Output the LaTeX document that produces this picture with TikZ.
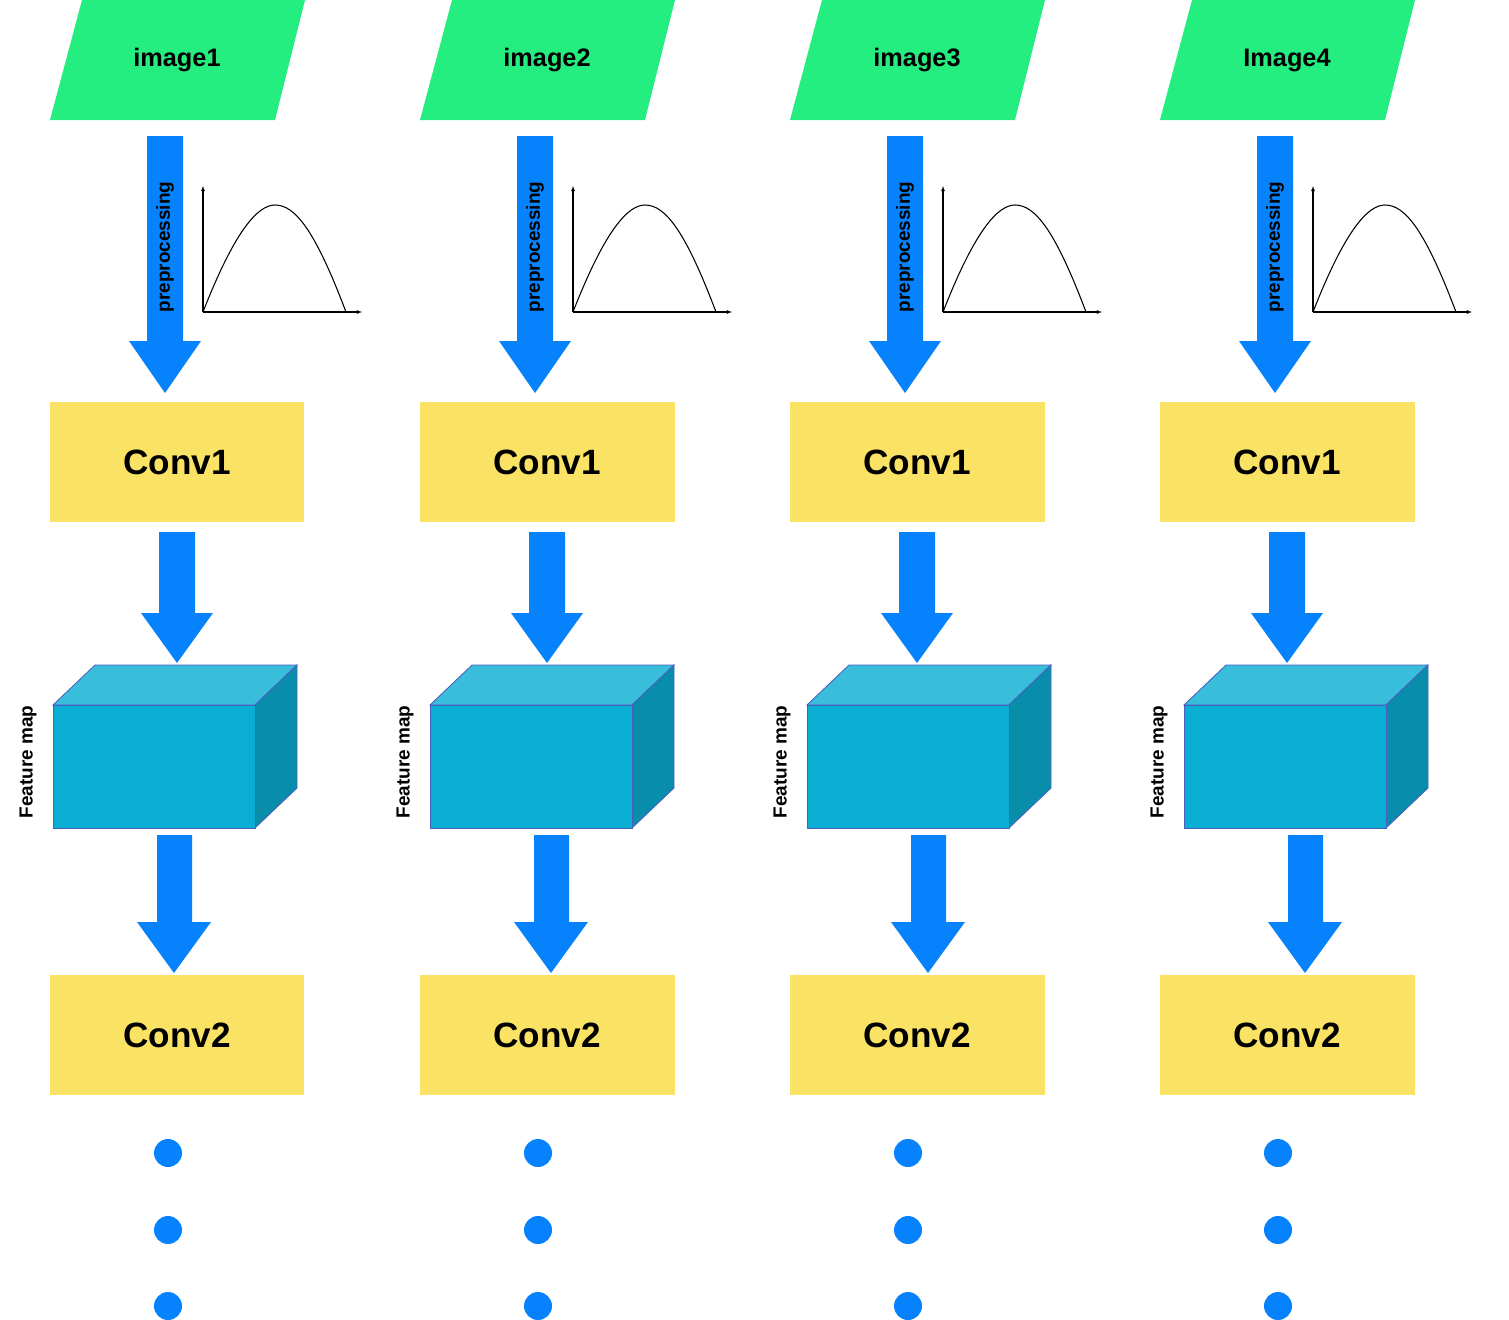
\documentclass[tikz,border=0pt]{standalone}
\usepackage{fontspec}
\setmainfont{Liberation Sans}
\begin{document}
\begin{tikzpicture}[x=0.05cm,y=-0.05cm,
  img/.style={fill=imggreen},
  conv/.style={fill=convyellow,minimum width=12.75cm,minimum height=6cm,inner sep=0,font=\bfseries\fontsize{50}{50}\selectfont},
  barrow/.style={fill=arrblue},
  dot/.style={circle,fill=arrblue,minimum size=1.4cm,inner sep=0}]
\definecolor{imggreen}{HTML}{24EE80}
\definecolor{convyellow}{HTML}{FAE264}
\definecolor{arrblue}{HTML}{0683FC}
\definecolor{cfront}{HTML}{0BAED3}
\definecolor{ctop}{HTML}{38BDDB}
\definecolor{cside}{HTML}{088EAB}
\definecolor{cedge}{HTML}{4A5FC1}
\useasboundingbox (0,0) rectangle (1509,1320);
\foreach \i/\o/\c/\lab in {1/0/0/image1,2/370/377/image2,3/740/754/image3,4/1110/1131/Image4}{
  \begin{scope}[xshift=\o*0.05cm]
  \fill[img] (82,0) -- (305,0) -- (275,120) -- (50,120) -- cycle;
  \node[font=\bfseries\fontsize{36}{36}\selectfont] (img\i) at (177,60) {\lab};
  % preprocessing arrow
  \fill[barrow] (147,136) -- (183,136) -- (183,341) -- (201,341) -- (165,393) -- (129,341) -- (147,341) -- cycle;
  \node[rotate=90,font=\bfseries\fontsize{27}{27}\selectfont] (pre\i) at (165,247) {preprocessing};
  % graph
  \draw[line width=1.5pt,-latex] (203,312) -- (203,186);
  \draw[line width=1.5pt,-latex] (203,312) -- (362,312);
  \draw[line width=1.5pt] (203,312) .. controls (235,230) and (258,205) .. (275,205) .. controls (295,205) and (315,230) .. (346,312);
  \node[conv] (c1\i) at (177,462) {Conv1};
  \fill[barrow] (159,532) -- (195,532) -- (195,613) -- (213,613) -- (177,663) -- (141,613) -- (159,613) -- cycle;
  \node[conv] (c2\i) at (177,1035) {Conv2};
  \node[dot] (d1\i) at (168,1153) {};
  \node[dot] (d2\i) at (168,1230) {};
  \node[dot] (d3\i) at (168,1306) {};
  \end{scope}
  \begin{scope}[xshift=\c*0.05cm]
  \filldraw[fill=ctop,draw=cedge,line width=1.2pt] (53,705) -- (95,665) -- (297,665) -- (255,705) -- cycle;
  \filldraw[fill=cside,draw=cedge,line width=1.2pt] (255,705) -- (297,665) -- (297,788) -- (255,828) -- cycle;
  \filldraw[fill=cfront,draw=cedge,line width=1.2pt] (53,705) rectangle (255,828);
  \node[rotate=90,font=\bfseries\fontsize{27}{27}\selectfont] (fm\i) at (28,762) {Feature map};
  \fill[barrow] (157,835) -- (192,835) -- (192,922) -- (211,922) -- (174,973) -- (137,922) -- (157,922) -- cycle;
  \end{scope}
}
\end{tikzpicture}
\end{document}
